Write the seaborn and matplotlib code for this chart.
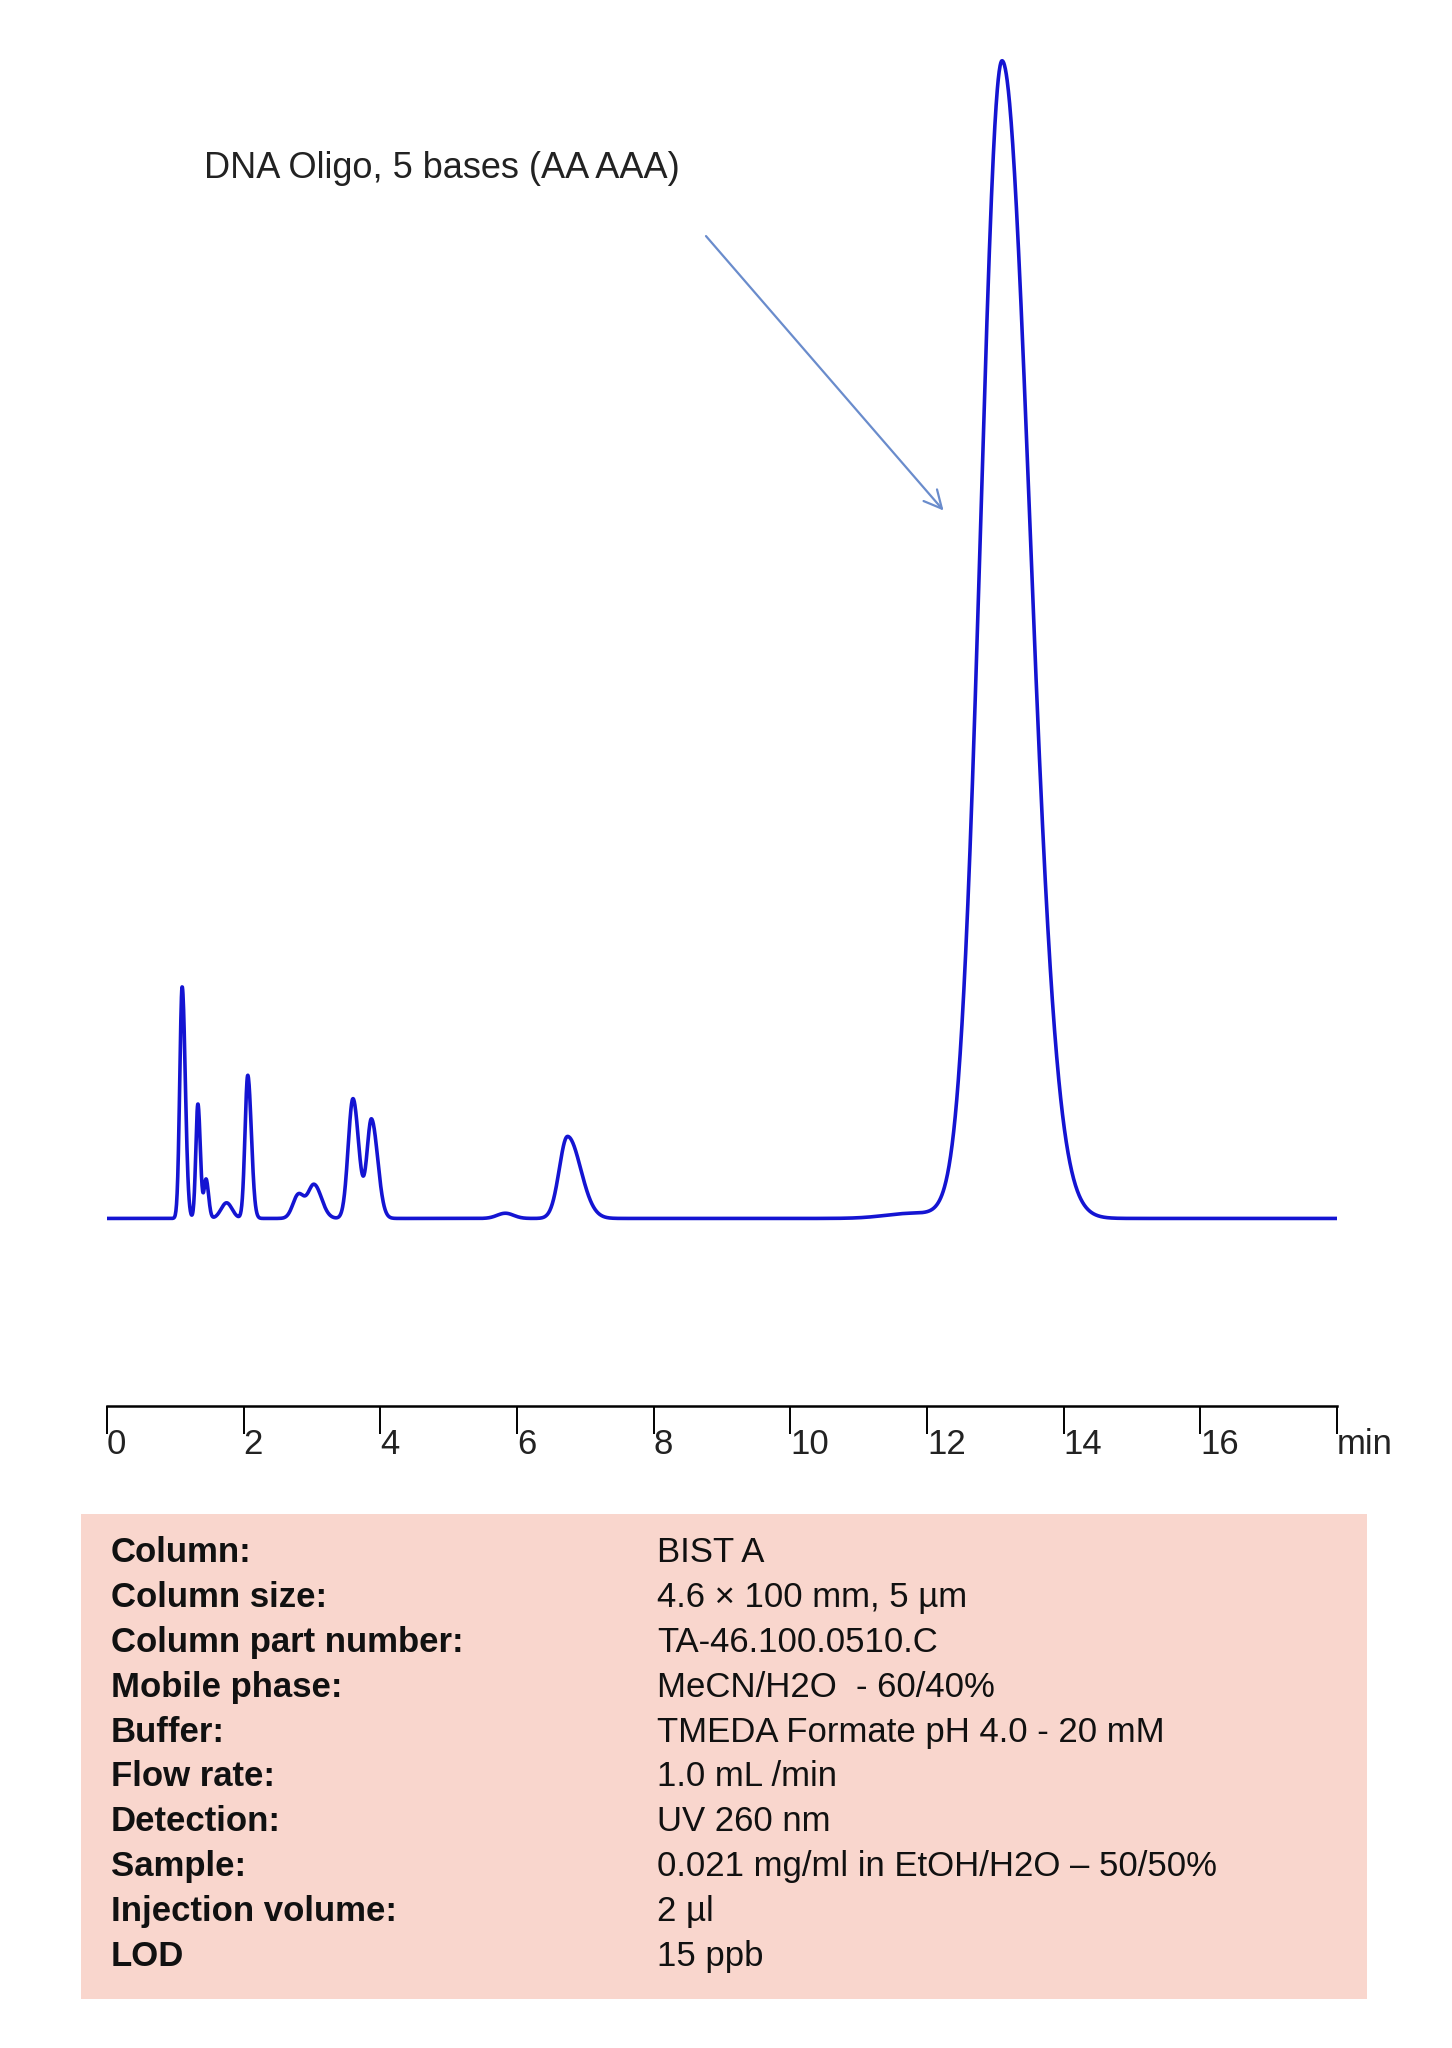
import numpy as np
import pandas as pd
import matplotlib
matplotlib.use("Agg")
import matplotlib.pyplot as plt
import seaborn as sns
from matplotlib.patches import Rectangle

# Peak table (min, height a.u., sigma min)
peak_rt = [1.10, 1.33, 1.45, 1.75, 2.06, 2.80, 3.03, 3.60, 3.87, 5.83, 6.74, 11.8, 13.10]
peak_h = [178, 88, 30, 12, 110, 18, 26, 92, 76, 4, 63, 4, 889]
peak_w = [0.035, 0.03, 0.03, 0.08, 0.04, 0.08, 0.09, 0.07, 0.065, 0.12, 0.12, 0.4, 0.31]
peak_tail = [1.3, 1.2, 1.2, 1.0, 1.3, 1.0, 1.2, 1.2, 1.4, 1.0, 1.6, 1.0, 1.3]

tick_vals = [0, 2, 4, 6, 8, 10, 12, 14, 16, 18]
tick_labels = ["0", "2", "4", "6", "8", "10", "12", "14", "16", "min"]

param_names = ["Column:", "Column size:", "Column part number:", "Mobile phase:", "Buffer:",
               "Flow rate:", "Detection:", "Sample:", "Injection volume:", "LOD"]
param_values = ["BIST A", "4.6 × 100 mm, 5 µm", "TA-46.100.0510.C", "MeCN/H2O  - 60/40%",
                "TMEDA Formate pH 4.0 - 20 mM", "1.0 mL /min", "UV 260 nm",
                "0.021 mg/ml in EtOH/H2O – 50/50%", "2 µl", "15 ppb"]

t = np.linspace(0, 18, 4000)
sig = np.zeros_like(t)
for rt, h, w, k in zip(peak_rt, peak_h, peak_w, peak_tail):
    ww = np.where(t < rt, w, w * k)
    sig += h * np.exp(-0.5 * ((t - rt) / ww) ** 2)
df = pd.DataFrame({"t": t, "signal": sig})

sns.set_theme(style="white")
plt.rcParams['font.family'] = ['Liberation Sans', 'DejaVu Sans']

fig = plt.figure(figsize=(14.52, 20.48), dpi=100)
ax = fig.add_axes([0.0737, 0.3135, 0.847, 0.660])
sns.lineplot(data=df, x="t", y="signal", ax=ax, color="#1414d2", linewidth=2.6)
ax.set_xlim(0, 18)
ax.set_ylim(-144, 894)
for s in ["top", "left", "right"]:
    ax.spines[s].set_visible(False)
ax.spines["bottom"].set_color("black")
ax.spines["bottom"].set_linewidth(1.8)
ax.set_yticks([])
ax.set_xticks(tick_vals)
ax.set_xticklabels(tick_labels, fontsize=25, color="#222222")
ax.tick_params(axis="x", direction="out", length=20, width=1.4, pad=-4, bottom=True, color="black")
for lab in ax.get_xticklabels():
    lab.set_horizontalalignment("left")
ax.set_xlabel("")
ax.set_ylabel("")

ax.annotate("", xy=(12.27, 542), xytext=(8.74, 756),
            xycoords="data", textcoords="data",
            arrowprops=dict(arrowstyle="->", color="#6a8ccc", lw=1.6, mutation_scale=32))
fig.text(204 / 1452, 1 - 169 / 2048, "DNA Oligo, 5 bases (AA AAA)", fontsize=26,
         va="center", ha="left", color="#222222")

fig.patches.append(Rectangle((81 / 1452, 1 - 1999 / 2048), (1367 - 81) / 1452, (1999 - 1514) / 2048,
                             transform=fig.transFigure, facecolor="#f9d6cd", edgecolor="none"))
y0 = 1553
for i, (n, v) in enumerate(zip(param_names, param_values)):
    y = 1 - (y0 + i * 44.8) / 2048
    fig.text(111 / 1452, y, n, fontsize=25, fontweight="bold", va="center", ha="left", color="#111111")
    fig.text(657 / 1452, y, v, fontsize=25, va="center", ha="left", color="#111111")

fig.savefig("out.png", dpi=100)
